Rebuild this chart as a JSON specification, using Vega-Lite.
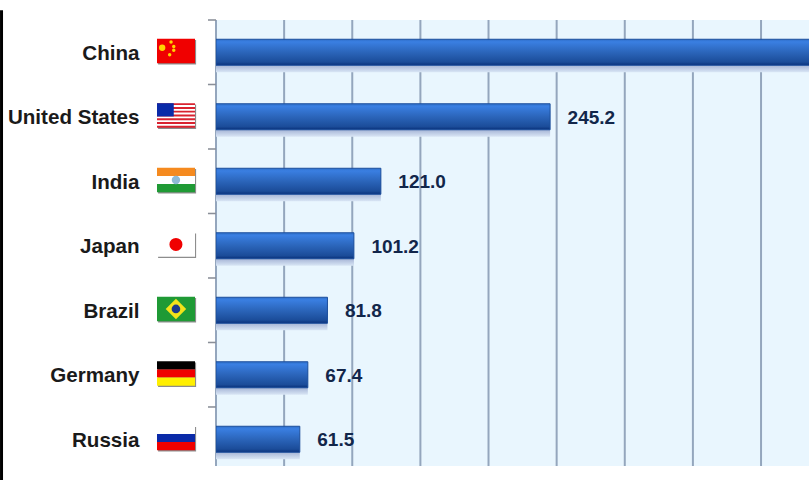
{
"$schema":"https://vega.github.io/schema/vega-lite/v6.json",
"width":593,"height":446,
"autosize":"none",
"padding":{"left":216,"top":20,"right":0,"bottom":14},
"background":"#ffffff",
"view":{"fill":"#e9f6fe","stroke":null},
"datasets":{
"grid":[{"v":0},{"v":50},{"v":100},{"v":150},{"v":200},{"v":250},{"v":300},{"v":350},{"v":400}],
"countries":[
{"country":"China","value":513.1},
{"country":"United States","value":245.2},
{"country":"India","value":121.0},
{"country":"Japan","value":101.2},
{"country":"Brazil","value":81.8},
{"country":"Germany","value":67.4},
{"country":"Russia","value":61.5}],
"stripes":[
{"x0":-158.5,"x1":-156.3,"y0":-0.15,"y1":7.2,"part":"black"},
{"x0":-5.9,"x1":0,"y0":-0.012,"y1":0.012,"part":"tick"},
{"x0":-5.9,"x1":0,"y0":0.988,"y1":1.012,"part":"tick"},
{"x0":-5.9,"x1":0,"y0":1.988,"y1":2.012,"part":"tick"},
{"x0":-5.9,"x1":0,"y0":2.988,"y1":3.012,"part":"tick"},
{"x0":-5.9,"x1":0,"y0":3.988,"y1":4.012,"part":"tick"},
{"x0":-5.9,"x1":0,"y0":4.988,"y1":5.012,"part":"tick"},
{"x0":-5.9,"x1":0,"y0":5.988,"y1":6.012,"part":"tick"},
{"x0":-42.5,"x1":-14.6,"y0":0.31,"y1":0.69,"part":"shade"},
{"x0":-42.5,"x1":-14.6,"y0":1.31,"y1":1.69,"part":"shade"},
{"x0":-42.5,"x1":-14.6,"y0":2.31,"y1":2.69,"part":"shade"},
{"x0":-42.5,"x1":-14.6,"y0":3.31,"y1":3.69,"part":"shade"},
{"x0":-42.5,"x1":-14.6,"y0":4.31,"y1":4.69,"part":"shade"},
{"x0":-42.5,"x1":-14.6,"y0":5.31,"y1":5.69,"part":"shade"},
{"x0":-42.5,"x1":-14.6,"y0":6.31,"y1":6.69,"part":"shade"},
{"x0":-43.3,"x1":-15.4,"y0":0.29,"y1":0.67,"part":"red"},
{"x0":-43.3,"x1":-15.4,"y0":1.29,"y1":1.67,"part":"usred"},
{"x0":-43.3,"x1":-15.4,"y0":1.319,"y1":1.348,"part":"white"},
{"x0":-43.3,"x1":-15.4,"y0":1.378,"y1":1.407,"part":"white"},
{"x0":-43.3,"x1":-15.4,"y0":1.436,"y1":1.465,"part":"white"},
{"x0":-43.3,"x1":-15.4,"y0":1.495,"y1":1.524,"part":"white"},
{"x0":-43.3,"x1":-15.4,"y0":1.553,"y1":1.582,"part":"white"},
{"x0":-43.3,"x1":-15.4,"y0":1.611,"y1":1.64,"part":"white"},
{"x0":-43.3,"x1":-31,"y0":1.29,"y1":1.495,"part":"navy"},
{"x0":-43.3,"x1":-15.4,"y0":2.29,"y1":2.417,"part":"orange"},
{"x0":-43.3,"x1":-15.4,"y0":2.417,"y1":2.543,"part":"white"},
{"x0":-43.3,"x1":-15.4,"y0":2.543,"y1":2.67,"part":"green"},
{"x0":-43.3,"x1":-15.4,"y0":3.29,"y1":3.67,"part":"white"},
{"x0":-43.3,"x1":-15.4,"y0":4.29,"y1":4.67,"part":"green"},
{"x0":-43.3,"x1":-15.4,"y0":5.29,"y1":5.417,"part":"black"},
{"x0":-43.3,"x1":-15.4,"y0":5.417,"y1":5.543,"part":"red"},
{"x0":-43.3,"x1":-15.4,"y0":5.543,"y1":5.67,"part":"yellow"},
{"x0":-43.3,"x1":-15.4,"y0":6.29,"y1":6.417,"part":"white"},
{"x0":-43.3,"x1":-15.4,"y0":6.417,"y1":6.543,"part":"navy"},
{"x0":-43.3,"x1":-15.4,"y0":6.543,"y1":6.67,"part":"red"}],
"emblems":[
{"x":-39.5,"y":0.43,"part":"star-big"},
{"x":-33,"y":0.34,"part":"star-small"},
{"x":-31,"y":0.41,"part":"star-small"},
{"x":-31,"y":0.47,"part":"star-small"},
{"x":-34,"y":0.54,"part":"star-small"},
{"x":-29.4,"y":2.48,"part":"chakra"},
{"x":-29.4,"y":3.48,"part":"sun"},
{"x":-29.4,"y":4.48,"part":"diamond"},
{"x":-29.4,"y":4.48,"part":"disc"}]
},
"layer":[
{"data":{"name":"grid"},
 "mark":{"type":"rule","color":"#94a6bd","strokeWidth":2},
 "encoding":{"x":{"field":"v","type":"quantitative","scale":{"domain":[0,435.2],"nice":false,"zero":false},"axis":null}}},
{"data":{"name":"countries"},
 "mark":{"type":"bar","clip":true,"size":26,"yOffset":7,"color":{"gradient":"linear","x1":0,"y1":0,"x2":0,"y2":1,"stops":[{"offset":0,"color":"#9fb0d4"},{"offset":0.75,"color":"#a9b8d8"},{"offset":1,"color":"#d9e6f5"}]}},
 "encoding":{
  "y":{"field":"country","type":"nominal","sort":null,"scale":{"range":[0,451.5],"paddingInner":0,"paddingOuter":0},"axis":null},
  "x":{"field":"value","type":"quantitative","scale":{"domain":[0,435.2],"nice":false,"zero":false},"axis":null}}},
{"data":{"name":"countries"},
 "mark":{"type":"bar","clip":true,"size":26,"stroke":"#1d4f9c","strokeWidth":1,"color":{"gradient":"linear","x1":0,"y1":0,"x2":0,"y2":1,"stops":[{"offset":0,"color":"#2f6fc9"},{"offset":0.1,"color":"#3a7fe2"},{"offset":0.5,"color":"#2b65ba"},{"offset":0.88,"color":"#1b4c99"},{"offset":1,"color":"#08307a"}]}},
 "encoding":{
  "y":{"field":"country","type":"nominal","sort":null,"scale":{"range":[0,451.5],"paddingInner":0,"paddingOuter":0},
   "axis":{"title":null,"domain":false,"ticks":false,"tickSize":0,"labelPadding":77,"labelOffset":1.5,"labelFont":"Liberation Sans","labelFontWeight":"bold","labelFontSize":20.6,"labelColor":"#1a1a1a","labelLimit":200,"grid":false}},
  "x":{"field":"value","type":"quantitative","scale":{"domain":[0,435.2],"nice":false,"zero":false},"axis":null}}},
{"data":{"name":"countries"},
 "transform":[{"filter":"datum.value < 435"}],
 "mark":{"type":"text","clip":true,"align":"left","baseline":"middle","dx":17.5,"dy":1,"font":"Liberation Sans","fontWeight":"bold","fontSize":19,"color":"#12264a"},
 "encoding":{
  "y":{"field":"country","type":"nominal","sort":null,"scale":{"domain":["China","United States","India","Japan","Brazil","Germany","Russia"],"range":[0,451.5],"paddingInner":0,"paddingOuter":0},"axis":null},
  "x":{"field":"value","type":"quantitative","scale":{"domain":[0,435.2],"nice":false,"zero":false},"axis":null},
  "text":{"field":"value","type":"quantitative","format":".1f"}}},
{"data":{"name":"stripes"},
 "mark":{"type":"rect","clip":false},
 "encoding":{
  "x":{"field":"x0","type":"quantitative","scale":{"domain":[0,435.2],"nice":false,"zero":false},"axis":null},
  "x2":{"field":"x1"},
  "y":{"field":"y0","type":"quantitative","scale":{"domain":[0,6.915],"reverse":true,"nice":false,"zero":false},"axis":null},
  "y2":{"field":"y1"},
  "color":{"field":"part","type":"nominal","legend":null,"scale":{"domain":["tick","shade","red","usred","white","navy","orange","green","black","yellow","star-big","star-small","chakra","sun","diamond","disc"],"range":["#8a8f98","#8d8d8d","#f00000","#d9222f","#ffffff","#0a2aa8","#f58a1f","#1f9a35","#000000","#ffef00","#ffd400","#ffd400","#8fbad6","#f00000","#f2e31a","#1a3a8c"]}}}},
{"data":{"name":"emblems"},
 "mark":{"type":"point","filled":true,"opacity":1,"clip":false},
 "encoding":{
  "x":{"field":"x","type":"quantitative","scale":{"domain":[0,435.2],"nice":false,"zero":false},"axis":null},
  "y":{"field":"y","type":"quantitative","scale":{"domain":[0,6.915],"reverse":true,"nice":false,"zero":false},"axis":null},
  "color":{"field":"part","type":"nominal","legend":null},
  "shape":{"field":"part","type":"nominal","legend":null,"scale":{"domain":["star-big","star-small","chakra","sun","diamond","disc"],"range":["circle","circle","circle","circle","diamond","circle"]}},
  "size":{"field":"part","type":"nominal","legend":null,"scale":{"type":"ordinal","domain":["star-big","star-small","chakra","sun","diamond","disc"],"range":[40,12,70,170,420,75]}}}}
],
"resolve":{"scale":{"y":"independent"},"axis":{"x":"independent","y":"independent"}}
}
